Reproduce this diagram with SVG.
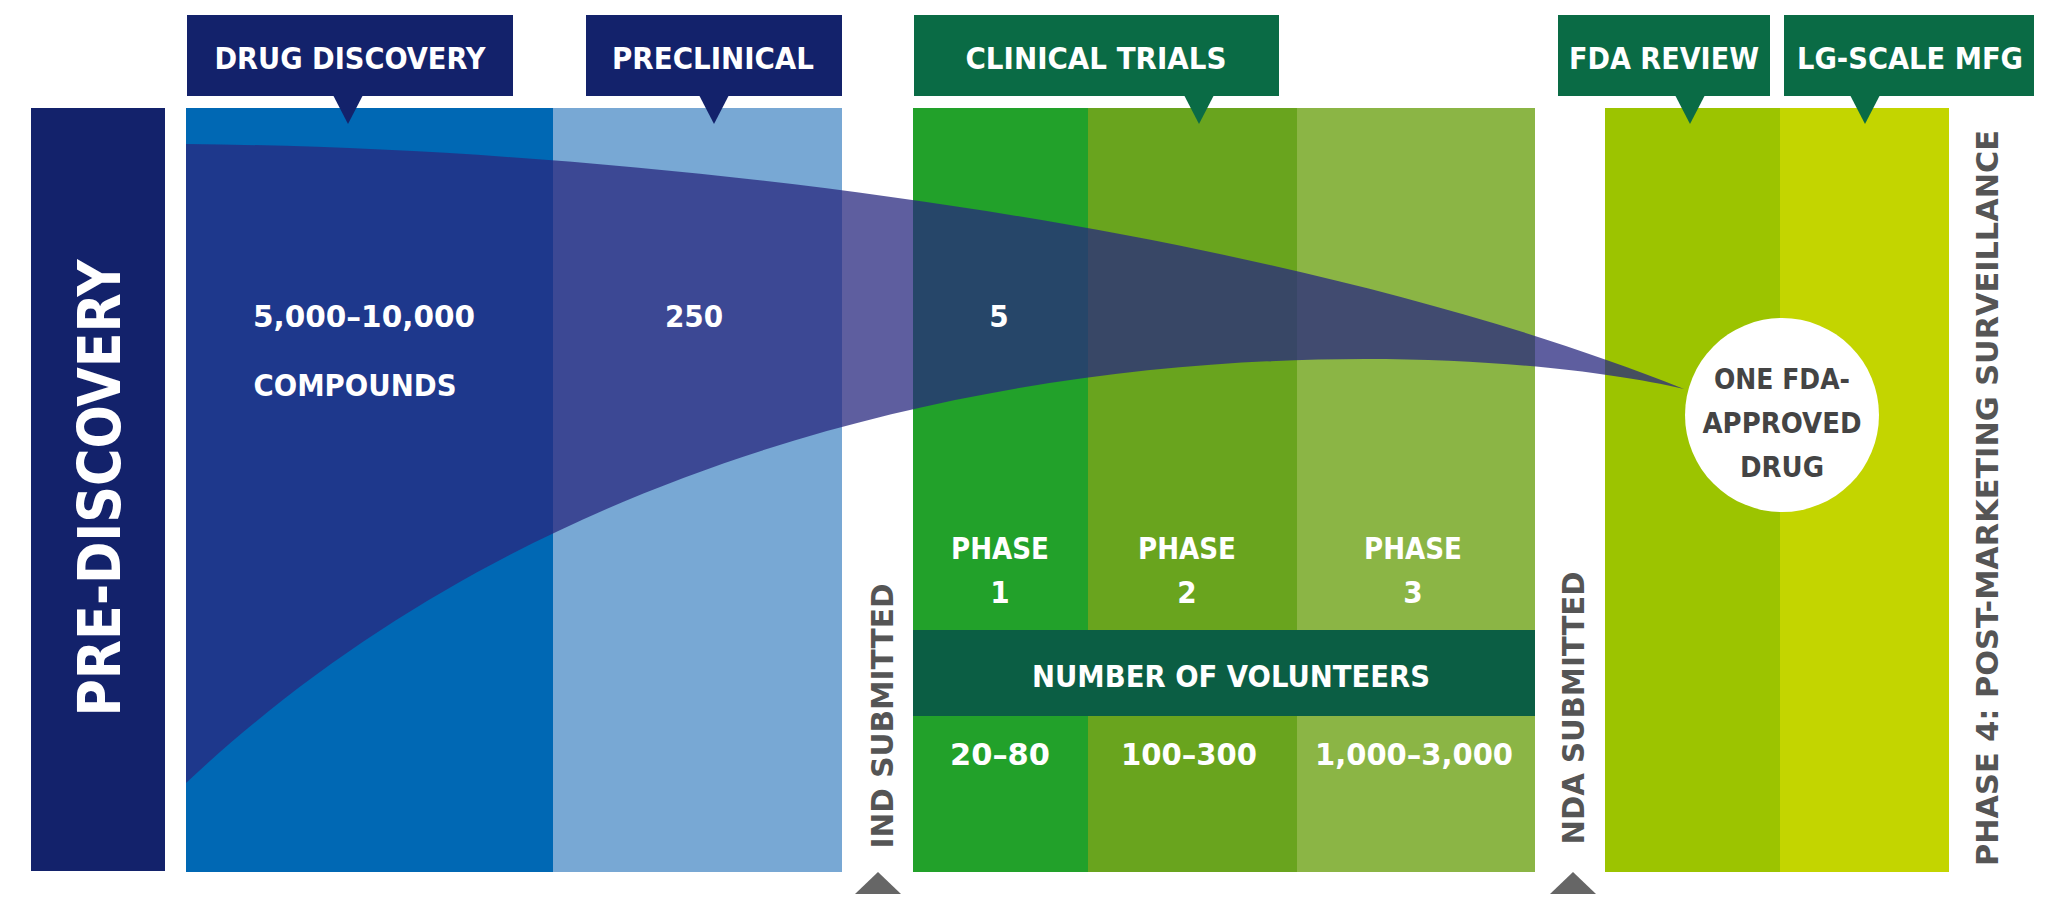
<svg xmlns="http://www.w3.org/2000/svg" width="2048" height="924" viewBox="0 0 2048 924">
<style>
text{font-family:"DejaVu Sans Condensed","DejaVu Sans",sans-serif;font-weight:bold;text-anchor:middle;fill:#fff}
.h{font-size:30px}
.b{font-size:31px}
.g{fill:#555}
.c{fill:#444;font-size:28px}
</style>
<rect width="2048" height="924" fill="#fff"/>
<g id="pre-discovery"><rect x="31" y="108" width="134" height="763" fill="#13226b"/>
<text transform="translate(120,488) rotate(-90)" font-size="58" textLength="457" lengthAdjust="spacingAndGlyphs">PRE-DISCOVERY</text></g>
<g id="columns">
<rect x="186" y="108" width="368" height="764" fill="#0068b4"/>
<rect x="553" y="108" width="289" height="764" fill="#78a8d4"/>
<rect x="913" y="108" width="176" height="764" fill="#22a12a"/>
<rect x="1088" y="108" width="210" height="764" fill="#69a41e"/>
<rect x="1297" y="108" width="238" height="764" fill="#8bb545"/>
<rect x="1605" y="108" width="176" height="764" fill="#9cc400"/>
<rect x="1780" y="108" width="169" height="764" fill="#c3d500"/>
</g>
<g id="connectors">
<path d="M186,144 C700,149 1300,235 1684,389 C1450,335 700,300 186,783 Z" fill="#28287f" fill-opacity="0.75"/>
</g>
<g id="headers">
<g id="h-drug"><rect x="187" y="15" width="326" height="81" fill="#13226b"/><path d="M333,95 L363,95 L348,124 Z" fill="#13226b"/><text class="h" x="350" y="69" textLength="271" lengthAdjust="spacingAndGlyphs">DRUG DISCOVERY</text></g>
<g id="h-pre"><rect x="586" y="15" width="256" height="81" fill="#13226b"/><path d="M699,95 L729,95 L714,124 Z" fill="#13226b"/><text class="h" x="713" y="69" textLength="202" lengthAdjust="spacingAndGlyphs">PRECLINICAL</text></g>
<g id="h-clin"><rect x="914" y="15" width="365" height="81" fill="#0a6b45"/><path d="M1184,95 L1214,95 L1199,124 Z" fill="#0a6b45"/><text class="h" x="1096" y="69" textLength="261" lengthAdjust="spacingAndGlyphs">CLINICAL TRIALS</text></g>
<g id="h-fda"><rect x="1558" y="15" width="212" height="81" fill="#0a6b45"/><path d="M1675,95 L1705,95 L1690,124 Z" fill="#0a6b45"/><text class="h" x="1664" y="69" textLength="190" lengthAdjust="spacingAndGlyphs">FDA REVIEW</text></g>
<g id="h-lg"><rect x="1784" y="15" width="250" height="81" fill="#0a6b45"/><path d="M1850,95 L1880,95 L1865,124 Z" fill="#0a6b45"/><text class="h" x="1910" y="69" textLength="226" lengthAdjust="spacingAndGlyphs">LG-SCALE MFG</text></g>
</g>
<g id="counts">
<text class="b" x="364" y="327" textLength="222" lengthAdjust="spacingAndGlyphs">5,000–10,000</text>
<text class="b" x="355" y="396" textLength="203" lengthAdjust="spacingAndGlyphs">COMPOUNDS</text>
<text class="b" x="694" y="327">250</text>
<text class="b" x="999" y="327">5</text>
</g>
<g id="phases">
<text class="b" x="1000" y="559" textLength="98" lengthAdjust="spacingAndGlyphs">PHASE</text><text class="b" x="1000" y="603">1</text>
<text class="b" x="1187" y="559" textLength="98" lengthAdjust="spacingAndGlyphs">PHASE</text><text class="b" x="1187" y="603">2</text>
<text class="b" x="1413" y="559" textLength="98" lengthAdjust="spacingAndGlyphs">PHASE</text><text class="b" x="1413" y="603">3</text>
</g>
<g id="volunteers"><rect x="913" y="630" width="622" height="86" fill="#0b5e44"/>
<text class="b" x="1231" y="687" textLength="398" lengthAdjust="spacingAndGlyphs">NUMBER OF VOLUNTEERS</text>
<text class="b" x="1000" y="765" textLength="100" lengthAdjust="spacingAndGlyphs">20–80</text>
<text class="b" x="1189" y="765" textLength="136" lengthAdjust="spacingAndGlyphs">100–300</text>
<text class="b" x="1414" y="765" textLength="198" lengthAdjust="spacingAndGlyphs">1,000–3,000</text>
</g>
<g id="ind"><text class="g" transform="translate(893,716) rotate(-90)" font-size="30" textLength="265" lengthAdjust="spacingAndGlyphs">IND SUBMITTED</text><path d="M855,894 L901,894 L878,872 Z" fill="#666"/></g>
<g id="nda"><text class="g" transform="translate(1584,708) rotate(-90)" font-size="30" textLength="273" lengthAdjust="spacingAndGlyphs">NDA SUBMITTED</text><path d="M1550,894 L1596,894 L1573,872 Z" fill="#666"/></g>
<g id="phase4"><text class="g" transform="translate(1998,498) rotate(-90)" font-size="30" textLength="736" lengthAdjust="spacingAndGlyphs">PHASE 4: POST-MARKETING SURVEILLANCE</text></g>
<g id="approved"><circle cx="1782" cy="415" r="97" fill="#fff"/>
<text class="c" x="1782" y="389" style="fill:#444" textLength="136" lengthAdjust="spacingAndGlyphs">ONE FDA-</text>
<text class="c" x="1782" y="433" style="fill:#444" textLength="159" lengthAdjust="spacingAndGlyphs">APPROVED</text>
<text class="c" x="1782" y="477" style="fill:#444" textLength="84" lengthAdjust="spacingAndGlyphs">DRUG</text>
</g>
</svg>
